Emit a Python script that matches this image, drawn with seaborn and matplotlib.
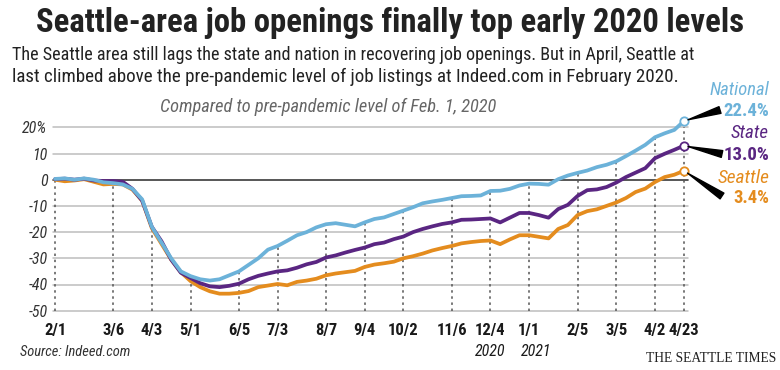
import numpy as np
import pandas as pd
import seaborn as sns
import matplotlib.pyplot as plt
from matplotlib import font_manager

# Weekly readings, % change vs pre-pandemic level
start_date = "2020-01-24"
national = [0.3, 0.5, 0.0, 0.5, 0.0, -1.0, -1.3, -1.8, -3.5, -7.5,
            -18.0, -24.0, -30.0, -35.0, -36.8, -38.0, -38.5, -38.0, -36.5, -35.0,
            -32.5, -30.0, -26.7, -25.3, -23.3, -21.2, -20.0, -18.2, -17.0, -16.6,
            -17.2, -17.8, -16.3, -15.0, -14.4, -13.1, -11.8, -10.5, -9.0, -8.3,
            -7.7, -7.0, -6.3, -6.2, -6.0, -4.3, -4.2, -3.5, -2.2, -1.5,
            -1.6, -1.9, 0.2, 1.6, 2.6, 3.5, 4.8, 5.7, 7.0, 9.0,
            11.1, 13.3, 16.2, 17.7, 19.0, 22.4]
state = [0.2, 0.4, 0.0, 0.4, -0.3, -0.5, -0.5, -0.8, -3.5, -8.0,
         -18.0, -23.5, -30.5, -35.5, -37.5, -39.5, -40.7, -41.0, -40.5, -39.7,
         -38.0, -36.7, -35.8, -35.0, -34.6, -33.6, -32.3, -31.4, -29.7, -28.9,
         -27.8, -26.8, -25.9, -24.6, -24.0, -22.7, -21.7, -20.0, -18.8, -17.8,
         -16.9, -16.3, -15.3, -15.2, -15.0, -14.8, -16.3, -14.5, -12.7, -12.7,
         -13.5, -14.5, -11.2, -9.6, -6.2, -4.0, -3.7, -2.8, -1.1, 1.0,
         2.7, 4.4, 8.2, 9.9, 11.4, 13.0]
seattle = [0.0, -0.6, -0.3, 0.2, -0.8, -1.8, -1.6, -1.8, -3.8, -8.0,
           -18.5, -24.5, -30.5, -35.3, -38.7, -41.0, -42.6, -43.5, -43.5, -43.2,
           -42.5, -41.0, -40.4, -39.8, -40.3, -39.0, -38.5, -37.8, -36.5, -35.8,
           -35.3, -34.8, -33.3, -32.4, -31.9, -31.3, -30.0, -29.2, -28.2, -27.0,
           -26.1, -25.3, -24.3, -23.8, -23.4, -23.2, -24.6, -22.8, -21.2, -21.2,
           -21.8, -22.4, -18.8, -17.3, -13.5, -12.0, -11.3, -10.0, -8.7, -7.0,
           -4.7, -3.4, -0.9, 1.0, 1.9, 3.4]

series_names = ["National", "State", "Seattle"]
colors = {"National": "#6cb2d9", "State": "#5a2682", "Seattle": "#e48c1e"}

tick_dates = ["2020-01-24", "2020-03-06", "2020-04-03", "2020-05-01", "2020-06-05",
              "2020-07-03", "2020-08-07", "2020-09-04", "2020-10-02", "2020-11-06",
              "2020-12-04", "2021-01-01", "2021-02-05", "2021-03-05", "2021-04-02",
              "2021-04-23"]
tick_labels = ["2/1", "3/6", "4/3", "5/1", "6/5", "7/3", "8/7", "9/4", "10/2",
               "11/6", "12/4", "1/1", "2/5", "3/5", "4/2", "4/23"]
year_dates = ["2020-12-04", "2021-01-01"]
year_labels = ["2020", "2021"]
y_ticks = [-50, -40, -30, -20, -10, 0, 10, 20]

dates = pd.date_range(start_date, periods=len(national), freq="7D")
wide = pd.DataFrame({"date": dates, "National": national, "State": state, "Seattle": seattle})
df = wide.melt(id_vars="date", var_name="series", value_name="value")

# pick a narrow sans if one is installed
names = {f.name for f in font_manager.fontManager.ttflist}
narrow = None
for cand in ["Liberation Sans Narrow", "Roboto Condensed", "Noto Sans Condensed",
             "Open Sans Condensed", "DejaVu Sans Condensed"]:
    if cand in names:
        narrow = cand
        break
stretch = "normal"
if narrow is None:
    for f in font_manager.fontManager.ttflist:
        if f.stretch == "condensed" and "Sans" in f.name:
            narrow, stretch = f.name, "condensed"
            break
if narrow is None:
    narrow = "Roboto"

sns.set_theme(style="white")
plt.rcParams["font.family"] = [narrow, "DejaVu Sans"]
plt.rcParams["font.stretch"] = stretch

W, H = 780, 370
fig = plt.figure(figsize=(W / 100, H / 100), dpi=100)
ax = fig.add_axes([53 / W, 1 - 310.7 / H, (688 - 53) / W, (310.7 - 127.3) / H])
renderer = fig.canvas.get_renderer()

def fx(x):
    return x / W

def fy(y):
    return 1 - y / H

def fit(t, target):
    w = t.get_window_extent(renderer).width
    t.set_fontsize(t.get_fontsize() * target / w)
    return t

def size_for(text, target, **kw):
    p = fig.text(0, 0, text, fontsize=10, **kw)
    w = p.get_window_extent(renderer).width
    p.remove()
    return 10 * target / w

xtick_size = max(size_for("2/1", 22, fontweight="bold"), 12)
ytick_size = max(size_for("-50", 19, fontstyle="italic"), 11.5)
year_size = max(size_for("2020", 28, fontstyle="italic"), 11.5)

# gridlines
for v in y_ticks:
    if v == 0:
        continue
    ax.axhline(v, color="#bdbdbd", lw=1.1, zorder=0)
ax.axhline(0, color="#3a3a3a", lw=1.2, zorder=1)

# dotted drop lines from bottom to top curve at each tick
tdates = pd.to_datetime(tick_dates)
tops = wide.set_index("date").loc[tdates, series_names].max(axis=1).values
ax.vlines(tdates, -50, tops, colors="#555555", linestyles=(0, (1.6, 2.4)), lw=1.1, zorder=1)

sns.lineplot(data=df, x="date", y="value", hue="series", hue_order=["Seattle", "State", "National"],
             palette=colors, lw=2.7, legend=False, ax=ax, zorder=3)
for line in ax.lines:
    line.set_clip_on(False)
    line.set_solid_joinstyle("round")

# end markers
for name in series_names:
    ax.plot(dates[-1], wide[name].iloc[-1], "o", ms=6, mfc="white", mec=colors[name],
            mew=1.3, zorder=5, clip_on=False)

ax.set_xlim(dates[0] - pd.Timedelta(days=1.5), dates[-1] + pd.Timedelta(days=2.9))
ax.set_ylim(-50, 20)
ax.set_yticks(y_ticks)
ax.set_yticklabels([f"{v}%" if v == 20 else str(v) for v in y_ticks],
                   fontstyle="italic", fontsize=ytick_size, color="#333333")
ax.set_xticks(tdates)
ax.set_xticklabels(tick_labels, fontweight="bold", fontsize=xtick_size, color="#1a1a1a")
ax.tick_params(axis="both", length=0)
ax.tick_params(axis="y", pad=4)
ax.tick_params(axis="x", pad=9)
ax.set_xlabel("")
ax.set_ylabel("")
for s in ax.spines.values():
    s.set_visible(False)

for d, lab, off in zip(pd.to_datetime(year_dates), year_labels, [0, 5]):
    ax.annotate(lab, xy=(d, fy(351)), xycoords=("data", "figure fraction"),
                xytext=(off, 0), textcoords="offset points",
                ha="center", va="center", fontstyle="italic", fontsize=year_size, color="#1a1a1a")

# texts
t = fig.text(0.5, fy(23), "Seattle-area job openings finally top early 2020 levels",
             ha="center", va="center", fontsize=20, fontweight="bold", color="#222222")
fit(t, 707)
t = fig.text(fx(12), fy(55), "The Seattle area still lags the state and nation in recovering job openings. "
             "But in April, Seattle at", ha="left", va="center", fontsize=13, color="#222222")
fit(t, 678)
t = fig.text(fx(12), fy(77), "last climbed above the pre-pandemic level of job listings at Indeed.com "
             "in February 2020.", ha="left", va="center", fontsize=13, color="#222222")
fit(t, 665)
t = fig.text(fx(328), fy(107), "Compared to pre-pandemic level of Feb. 1, 2020", ha="center", va="center",
             fontsize=12, fontstyle="italic", color="#666666")
fit(t, 335)
t = fig.text(fx(20), fy(352), "Source: Indeed.com", ha="left", va="center", fontsize=10.5,
             fontstyle="italic", color="#333333")
fit(t, 111)
t = fig.text(fx(776), fy(358), "THE SEATTLE TIMES", ha="right", va="center", fontsize=8.5,
             family="Liberation Serif", color="#222222")
fit(t, 130)

label_pos = {"National": (90, 111, (720, 110)),
             "State": (133, 155, (722, 154)),
             "Seattle": (178, 198, (722, 196))}
for name in series_names:
    y_name, y_val, wide_end = label_pos[name]
    t = fig.text(fx(769), fy(y_name), name, ha="right", va="center", fontsize=12.5,
                 fontstyle="italic", color=colors[name])
    fit(t, {"National": 60, "State": 38, "Seattle": 52}[name])
    t = fig.text(fx(769), fy(y_val), f"{wide[name].iloc[-1]:.1f}%", ha="right", va="center",
                 fontsize=14.5, fontweight="bold", color=colors[name])
    fit(t, {"National": 46, "State": 46, "Seattle": 36}[name])
    ax.annotate("", xy=(dates[-1], wide[name].iloc[-1]), xycoords="data",
                xytext=(fx(wide_end[0]), fy(wide_end[1])), textcoords="figure fraction",
                annotation_clip=False,
                arrowprops=dict(arrowstyle="wedge,tail_width=0.5", mutation_scale=10,
                                color="black", shrinkA=0, shrinkB=3), zorder=6)

fig.savefig("out.png", dpi=100)
